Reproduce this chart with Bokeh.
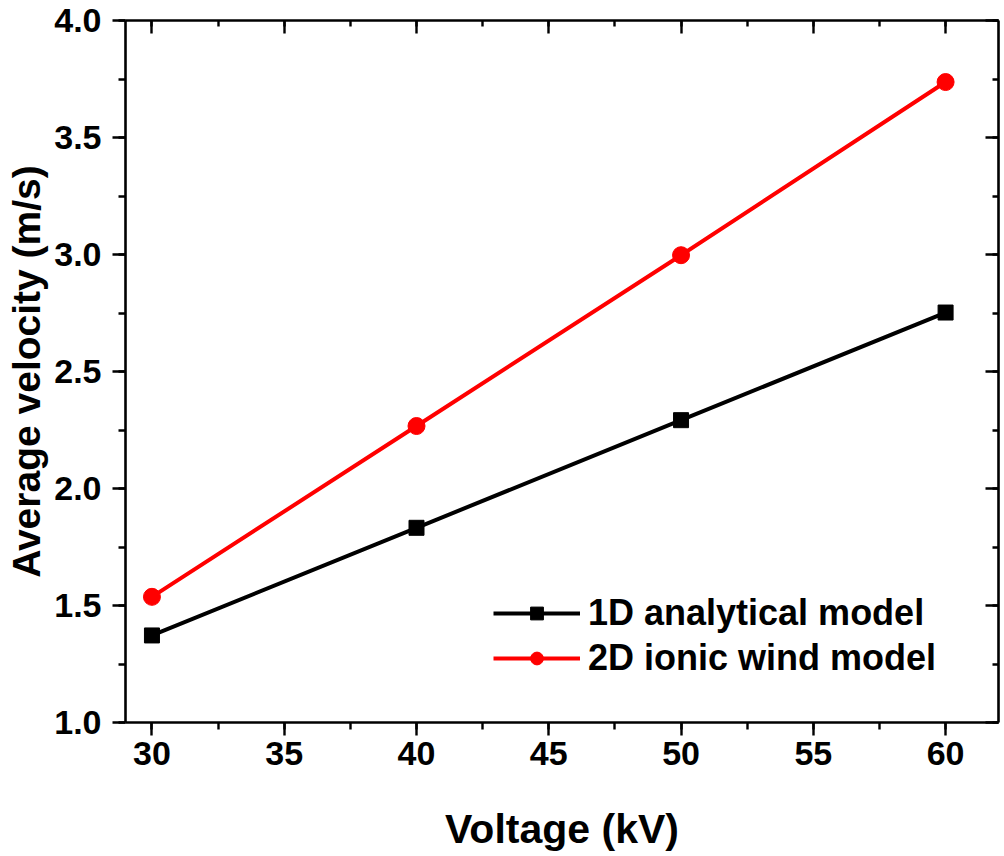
from bokeh.plotting import figure
from bokeh.models import LinearAxis, SingleIntervalTicker, NumeralTickFormatter, CustomJSTickFormatter, Legend, LegendItem, Range1d
from bokeh.embed import file_html
from bokeh.resources import INLINE

voltage = [30, 40, 50, 60]
model_1d = [1.372, 1.832, 2.292, 2.752]
model_2d = [1.537, 2.267, 2.997, 3.737]
series_names = ["1D analytical model", "2D ionic wind model"]
x_label = "Voltage (kV)"
y_label = "Average velocity (m/s)"

FONT = "Liberation Sans"

p = figure(width=1004, height=856, output_backend="svg", toolbar_location=None,
           x_range=Range1d(29, 62), y_range=Range1d(1.0, 4.0),
           x_axis_type=None, y_axis_type=None,
           min_border_left=125, min_border_right=6, min_border_top=20, min_border_bottom=134)
p.outline_line_color = None
p.xgrid.visible = False
p.ygrid.visible = False
p.background_fill_color = "white"
p.border_fill_color = "white"

def style(ax, labels=True, inward=False):
    ax.axis_line_width = 2.6
    ax.axis_line_color = "black"
    ax.major_tick_line_width = 2.4
    ax.minor_tick_line_width = 2.4
    ax.major_tick_line_color = "black"
    ax.minor_tick_line_color = "black"
    if inward:
        ax.major_tick_in = 13
        ax.major_tick_out = 0
        ax.minor_tick_in = 6
        ax.minor_tick_out = 0
    else:
        ax.major_tick_in = 0
        ax.major_tick_out = 13
        ax.minor_tick_in = 0
        ax.minor_tick_out = 7
    ax.major_label_text_font = FONT
    ax.major_label_text_font_style = "bold"
    ax.major_label_text_font_size = "34px"
    ax.major_label_text_color = "black"
    ax.axis_label_text_font = FONT
    ax.axis_label_text_font_style = "bold"
    ax.axis_label_text_font_size = "40px"
    ax.axis_label_text_color = "black"
    if not labels:
        ax.formatter = CustomJSTickFormatter(code="return ''")
        ax.major_label_text_font_size = "1px"
        ax.major_label_standoff = 0

xt = lambda: SingleIntervalTicker(interval=5, num_minor_ticks=2)
yt = lambda: SingleIntervalTicker(interval=0.5, num_minor_ticks=2)

xb = LinearAxis(ticker=xt(), axis_label=x_label)
style(xb)
xb.axis_label_text_font_size = "41px"
xb.major_label_standoff = 6
xb.axis_label_standoff = 38
p.add_layout(xb, "below")

yl = LinearAxis(ticker=yt(), axis_label=y_label, formatter=NumeralTickFormatter(format="0.0"))
style(yl)
yl.axis_label_text_font_size = "39px"
yl.major_label_standoff = 11
yl.axis_label_standoff = 3
p.add_layout(yl, "left")

xa = LinearAxis(ticker=xt())
style(xa, labels=False, inward=True)
p.add_layout(xa, "above")

yr = LinearAxis(ticker=yt())
style(yr, labels=False, inward=True)
p.add_layout(yr, "right")

l1 = p.line(voltage, model_1d, line_color="black", line_width=4)
s1 = p.scatter(voltage, model_1d, marker="square", size=15, fill_color="black", line_color="black")
l2 = p.line(voltage, model_2d, line_color="#FF0000", line_width=4)
s2 = p.scatter(voltage, model_2d, marker="circle", size=17, fill_color="#FF0000", line_color="#FF0000")

legend = Legend(items=[LegendItem(label=series_names[0], renderers=[l1, s1]),
                       LegendItem(label=series_names[1], renderers=[l2, s2])],
                location=(368, 43))
legend.border_line_color = None
legend.background_fill_alpha = 0
legend.label_text_font = FONT
legend.label_text_font_style = "bold"
legend.label_text_font_size = "36px"
legend.label_text_color = "black"
legend.glyph_width = 87
legend.glyph_height = 32
legend.label_height = 42
legend.label_standoff = 8
legend.spacing = 3
legend.padding = 0
legend.margin = 0
p.add_layout(legend, "center")

open("out.html", "w").write(file_html(p, INLINE))
